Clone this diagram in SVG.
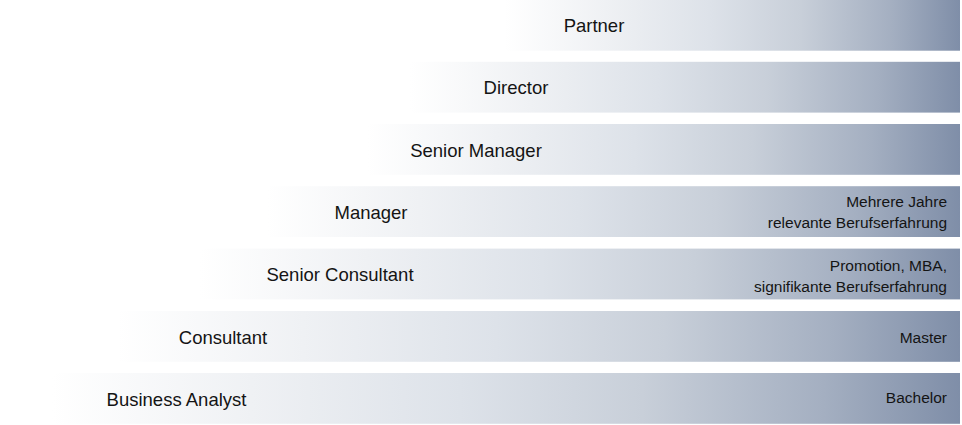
<svg xmlns="http://www.w3.org/2000/svg" width="962" height="425" viewBox="0 0 962 425">
  <defs>
    <linearGradient id="bar" x1="0" y1="0" x2="1" y2="0">
      <stop offset="0" stop-color="#ffffff"/>
      <stop offset="0.22" stop-color="#eff1f4"/>
      <stop offset="0.45" stop-color="#dde2e9"/>
      <stop offset="0.65" stop-color="#c8cfd9"/>
      <stop offset="0.85" stop-color="#a4afc1"/>
      <stop offset="1" stop-color="#7f8ea8"/>
    </linearGradient>
  </defs>
  <style>
    .bar { fill: url(#bar); }
    .lbl { font-family: "Liberation Sans", Arial, sans-serif; font-size: 18.5px; fill: #141414; text-anchor: middle; }
    .req { font-family: "Liberation Sans", Arial, sans-serif; font-size: 15.5px; fill: #141414; text-anchor: end; }
  </style>
  <rect width="962" height="425" fill="#ffffff"/>
  <g id="partner">
    <rect class="bar" x="505" y="0" width="455" height="50.7"/>
    <text class="lbl" x="594" y="32">Partner</text>
  </g>
  <g id="director">
    <rect class="bar" x="410" y="61.8" width="550" height="50.8"/>
    <text class="lbl" x="516" y="94">Director</text>
  </g>
  <g id="senior-manager">
    <rect class="bar" x="367" y="124" width="593" height="50.8"/>
    <text class="lbl" x="476" y="156.5">Senior Manager</text>
  </g>
  <g id="manager">
    <rect class="bar" x="267" y="186.2" width="693" height="50.8"/>
    <text class="lbl" x="371" y="218.5">Manager</text>
    <text class="req" x="947" y="206.5">Mehrere Jahre</text>
    <text class="req" x="947" y="227.5">relevante Berufserfahrung</text>
  </g>
  <g id="senior-consultant">
    <rect class="bar" x="200" y="248.6" width="760" height="50.8"/>
    <text class="lbl" x="340" y="281">Senior Consultant</text>
    <text class="req" x="947" y="271">Promotion, MBA,</text>
    <text class="req" x="947" y="291.5">signifikante Berufserfahrung</text>
  </g>
  <g id="consultant">
    <rect class="bar" x="118" y="311" width="842" height="50.8"/>
    <text class="lbl" x="223" y="343.5">Consultant</text>
    <text class="req" x="947" y="343">Master</text>
  </g>
  <g id="business-analyst">
    <rect class="bar" x="52" y="373" width="908" height="50.8"/>
    <text class="lbl" x="176.5" y="405.5">Business Analyst</text>
    <text class="req" x="947" y="403">Bachelor</text>
  </g>
  <g id="connectors"/>
</svg>
